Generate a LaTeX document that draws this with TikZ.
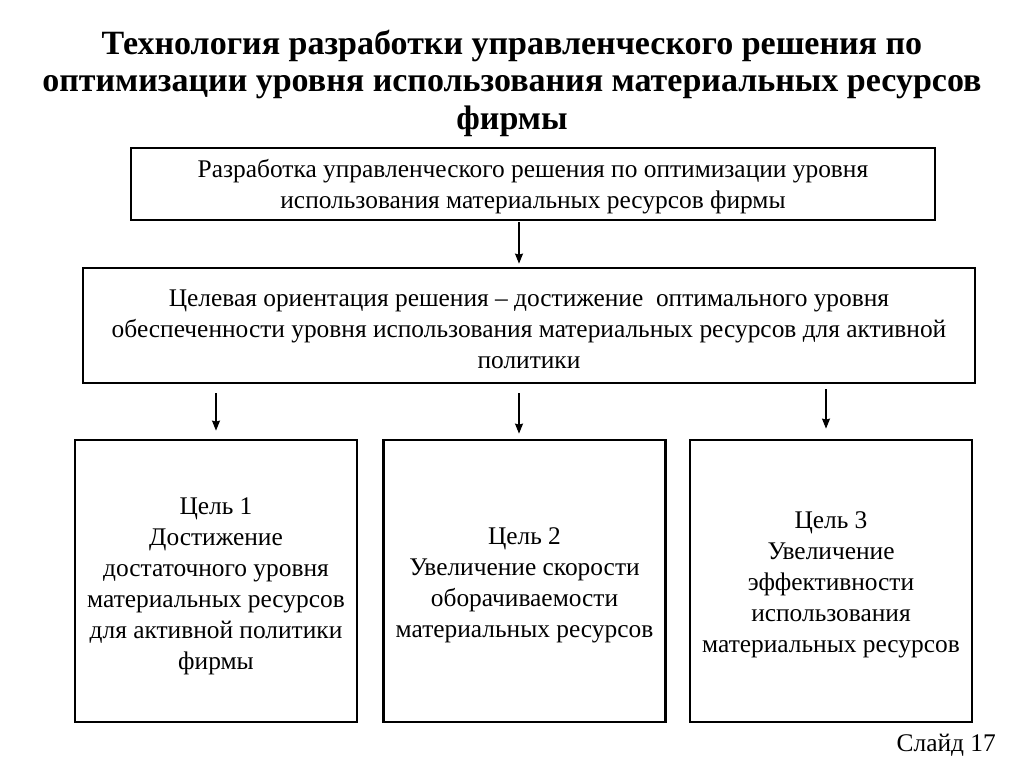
\documentclass[tikz,border=0pt]{standalone}
\usepackage{fontspec}
\setmainfont{Liberation Serif}
\usetikzlibrary{arrows.meta}
\tikzset{
  box/.style={draw=black, line width=2.8pt, fill=white, inner sep=0pt},
  txt/.style={align=center, font=\fontsize{25.4}{31}\selectfont, inner sep=0pt},
  arr/.style={line width=1.1pt, -{Stealth[length=10pt,width=8pt,inset=1pt]}},
}
\begin{document}
\begin{tikzpicture}[x=1pt,y=-1pt]
\useasboundingbox[fill=white] (0,0) rectangle (1024,767);
% title
\node[align=center, inner sep=0pt, font=\fontsize{34}{37.5}\selectfont\bfseries] (title) at (512,83)
  {Технология разработки управленческого решения по\\
   оптимизации уровня использования материальных ресурсов\\
   фирмы};
% boxes
\node[box, minimum width=804pt, minimum height=72pt] (b1) at (533,184) {};
\node[txt] (t1) at (533,187) {Разработка управленческого решения по оптимизации уровня\\
  использования материальных ресурсов фирмы};
\node[box, minimum width=892pt, minimum height=115pt] (b2) at (529,325.5) {};
\node[txt] (t2) at (529,329) {Целевая ориентация решения -- достижение\ \ оптимального уровня\\
  обеспеченности уровня использования материальных ресурсов для активной\\
  политики};
\node[box, minimum width=282pt, minimum height=282pt] (ba) at (216,581) {};
\node[box, minimum width=282pt, minimum height=282pt] (bb) at (524.5,581) {};
\node[box, minimum width=282pt, minimum height=282pt] (bc) at (831,581) {};
\node[txt] (ta) at (216,586) {Цель 1\\Достижение\\достаточного уровня\\материальных ресурсов\\для активной политики\\фирмы};
\node[txt] (tb) at (524.5,585) {Цель 2\\Увеличение скорости\\оборачиваемости\\материальных ресурсов};
\node[txt] (tc) at (831,585) {Цель 3\\Увеличение\\эффективности\\использования\\материальных ресурсов};
\node[anchor=east, inner sep=0pt, font=\fontsize{25.4}{30}\selectfont] (slide) at (996,745) {Слайд 17};
% arrows
\coordinate (a1s) at ([yshift=-1pt]b1.south -| 519,0);
\coordinate (a1e) at ([yshift=3pt]b2.north -| 519,0);
\draw[arr] (a1s) -- (a1e);
\coordinate (a2s) at ([yshift=-9pt]b2.south -| 216,0);
\coordinate (a2e) at ([yshift=8pt]ba.north -| 216,0);
\draw[arr] (a2s) -- (a2e);
\coordinate (a3s) at ([yshift=-9pt]b2.south -| 519,0);
\coordinate (a3e) at ([yshift=5pt]bb.north -| 519,0);
\draw[arr] (a3s) -- (a3e);
\coordinate (a4s) at ([yshift=-5pt]b2.south -| 826,0);
\coordinate (a4e) at ([yshift=10pt]bc.north -| 826,0);
\draw[arr] (a4s) -- (a4e);
\end{tikzpicture}
\end{document}
